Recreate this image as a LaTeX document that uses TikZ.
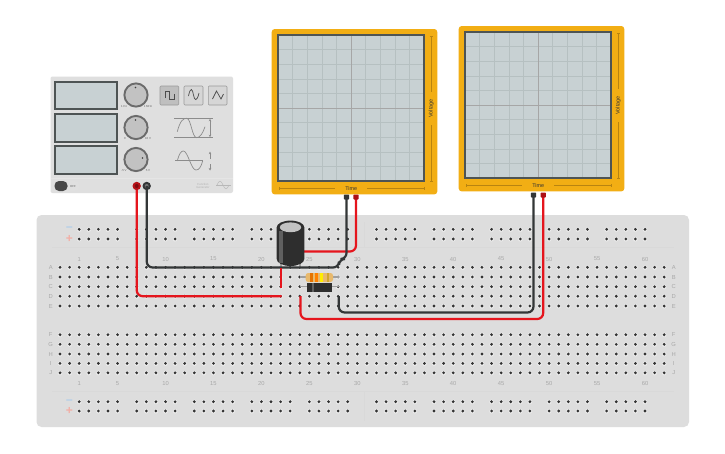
\documentclass[tikz,border=0pt]{standalone}
\usepackage{fontspec}
\setmainfont{Liberation Sans}
\usetikzlibrary{calc, arrows.meta}

\definecolor{boardgray}{HTML}{DDDDDD}
\definecolor{panelgray}{HTML}{DFDFDF}
\definecolor{holedark}{HTML}{333333}
\definecolor{labelgray}{HTML}{A8A8A8}
\definecolor{wirered}{HTML}{E5151D}
\definecolor{wireblack}{HTML}{333637}
\definecolor{scopeorange}{HTML}{F2AE14}
\definecolor{scopeline}{HTML}{B98410}
\definecolor{screenbg}{HTML}{C8D1D3}
\definecolor{screenedge}{HTML}{4E5454}
\definecolor{screengrid}{HTML}{B6C0C1}
\definecolor{symgray}{HTML}{8C8C8C}
\definecolor{railblue}{HTML}{B4CFE8}
\definecolor{railred}{HTML}{F2AFA6}
\definecolor{bodytan}{HTML}{E8B96C}

\tikzset{
    holeglow/.style={fill=white!45!boardgray},
    holedot/.style={fill=holedark},
    collabel/.style={text=labelgray, font=\fontsize{5.8}{6}\selectfont, inner sep=0pt},
    redwire/.style={draw=wirered, line width=2.2pt, rounded corners=6pt},
    blackwire/.style={draw=wireblack, line width=2.2pt, rounded corners=6pt},
    leadwire/.style={draw=gray!75, line width=1.4pt},
    display/.style={fill=screenbg, draw=screenedge, line width=1.8pt},
    knob/.style={fill=black!24, draw=black!58, line width=1.9pt},
    wavebtn/.style={draw=black!40, line width=0.6pt, rounded corners=1pt},
    symline/.style={draw=symgray, line width=0.7pt},
    tinylabel/.style={text=black!60, font=\fontsize{2.9}{3}\selectfont, inner sep=0pt},
    scopetext/.style={text=black!80, font=\fontsize{5.4}{6}\selectfont, inner sep=0pt},
    railsign/.style={font=\bfseries\fontsize{12}{12}\selectfont, inner sep=0pt}
}

\begin{document}
\begin{tikzpicture}[x=1pt,y=-1pt]
    \useasboundingbox (0,0) rectangle (725,453);
    \fill[white] (0,0) rectangle (725,453);

    %breadboard
    \fill[boardgray, rounded corners=5pt] (36.5,215) rectangle (689,427);
    \draw[black!15, line width=0.5pt] (52,247.3) -- (674,247.3);
    \draw[black!15, line width=0.5pt] (52,391) -- (674,391);
    \draw[black!15, line width=0.5pt] (364,222) -- (364,247.3);
    \draw[black!15, line width=0.5pt] (364,391) -- (364,421);

    %holes
    \foreach \rowy in {267.3,277,286.7,296.2,306,334.7,344.3,354,363.4,372.8} {
        \foreach \c in {-1,...,62} {
            \fill[holeglow] ({79.2+9.59*(\c-1)},\rowy+0.3) circle (2.3);
            \fill[holedot] ({79.2+9.59*(\c-1)},\rowy) circle (1.55);
        }
    }
    \foreach \rowy in {229.3,239,401.7,411} {
        \foreach \g in {1,7,13,19,25,32,38,44,50,56} {
            \foreach \k in {0,...,4} {
                \fill[holeglow] ({79.2+9.59*(\g+\k-1)},\rowy+0.3) circle (2.3);
                \fill[holedot] ({79.2+9.59*(\g+\k-1)},\rowy) circle (1.55);
            }
        }
    }

    %rail signs
    \foreach \n/\rowy in {topminus/229.3,botminus/401.7} {
        \node[railsign, text=railblue] (\n) at (69.3,\rowy) {−};
    }
    \foreach \n/\rowy in {topplus/239,botplus/411} {
        \node[railsign, text=railred] (\n) at (69.3,\rowy) {+};
    }

    %numbers
    \foreach \c in {1,5,10,15,...,60} {
        \node[collabel] (numtop\c) at ({79.2+9.59*(\c-1)},259) {\c};
        \node[collabel] (numbot\c) at ({79.2+9.59*(\c-1)},383.7) {\c};
    }
    \foreach \l/\rowy in {A/267.3,B/277,C/286.7,D/296.2,E/306,F/334.7,G/344.3,H/354,I/363.4,J/372.8} {
        \node[collabel] (left\l) at (50.7,\rowy) {\l};
        \node[collabel] (right\l) at (673.7,\rowy) {\l};
    }

    %function generator
    \fill[panelgray, rounded corners=2pt] (50.5,76.5) rectangle (233,193);
    \draw[white!90!black, line width=0.5pt] (50.5,178) -- (233,178);
    \draw[display] (55,82) rectangle (117.3,109.3);
    \draw[display] (55,114.3) rectangle (117.3,141.7);
    \draw[display] (55,146.3) rectangle (117.3,174.3);

    \draw[knob] (136,95) circle (11.6);
    \fill[black!75] (135.5,87.5) circle (0.9);
    \draw[knob] (136,127.5) circle (11.6);
    \fill[black!75] (135.5,120) circle (0.9);
    \draw[knob] (136,159.5) circle (11.6);
    \fill[black!75] (142.5,158) circle (0.9);

    \node[tinylabel] (freqlow) at (124,106) {1 Hz};
    \node[tinylabel] (freqhigh) at (148,106) {1 MHz};
    \node[tinylabel] (amplow) at (125,138.5) {0};
    \node[tinylabel] (amphigh) at (148,138.5) {10 V};
    \node[tinylabel] (offlow) at (124,171) {-5 V};
    \node[tinylabel] (offhigh) at (148,171) {5 V};

    %wave buttons
    \draw[wavebtn, fill=black!25] (160,86) rectangle (178.7,105);
    \draw[wavebtn, fill=black!16] (184,86) rectangle (203,105);
    \draw[wavebtn, fill=black!16] (208.3,86) rectangle (227,105);
    \draw[black!70, line width=0.7pt] (165,98) -- (165,91) -- (169.5,91) -- (169.5,99) -- (174,99) -- (174,94);
    \draw[black!70, line width=0.7pt] (188.5,96) .. controls (190.5,86) and (192.5,89) .. (193.5,95) .. controls (194.5,101) and (197,102) .. (199,93);
    \draw[black!70, line width=0.7pt] (212.5,99) -- (216.5,91) -- (221,99) -- (223.5,94);

    %amplitude sketch
    \draw[symline] (174,118.3) -- (213,118.3);
    \draw[symline] (174,137.7) -- (213,137.7);
    \draw[symline] (177.3,131.7) .. controls (180,121) and (183,118.3) .. (186.7,118.3) .. controls (191,118.3) and (192,137.7) .. (196.7,137.7) .. controls (200,137.7) and (203,133) .. (205,126.7);
    \draw[symline, -{Stealth[length=2.5pt,width=2.5pt]}] (210,128) -- (210,118.8);
    \draw[symline, -{Stealth[length=2.5pt,width=2.5pt]}] (210,128) -- (210,137.2);

    %offset sketch
    \draw[symline] (175,160) -- (203,160);
    \draw[symline] (177.3,161) .. controls (179,154) and (181,151) .. (183.3,151) .. controls (188,151) and (191,170) .. (196,170) .. controls (199,170) and (201,167) .. (202.7,161);
    \draw[symline, -{Stealth[length=2.5pt,width=2.5pt]}] (210,159) -- (210,151.7);
    \draw[symline, -{Stealth[length=2.5pt,width=2.5pt]}] (210,164.3) -- (210,170.5);

    %switch
    \fill[black!12, rounded corners=4.5pt] (54.5,181) rectangle (79.5,191);
    \fill[black!72, rounded corners=4.5pt] (54.5,181) rectangle (67.5,191);
    \node[tinylabel] (switchtext) at (73,186) {OFF};

    %maker label
    \node[tinylabel, text=black!30, align=center] (genname) at (203,185.7) {Function\\Generator};
    \draw[black!28, line width=0.5pt] (216,185) -- (231,185);
    \draw[black!28, line width=0.5pt] (217,185) .. controls (219,180) and (221,180) .. (223,185) .. controls (225,190) and (227,190) .. (229,185);

    %oscilloscopes
    \foreach \sx/\sy in {271.7/29,458.7/26} {
        \begin{scope}[shift={(\sx,\sy)}]
            \fill[scopeorange, rounded corners=3pt] (0,0) rectangle (165.6,165.4);
            \fill[screenbg] (6.3,6) rectangle (152.6,152.3);
            \foreach \i in {1,...,9} {
                \draw[screengrid, line width=0.6pt] ({6.3+14.63*\i},6) -- ({6.3+14.63*\i},152.3);
                \draw[screengrid, line width=0.6pt] (6.3,{6+14.63*\i}) -- (152.6,{6+14.63*\i});
            }
            \draw[black!35, line width=0.6pt] (79.45,6) -- (79.45,152.3);
            \draw[black!35, line width=0.6pt] (6.3,79.15) -- (152.6,79.15);
            \draw[screenedge, line width=1.8pt] (6.3,6) rectangle (152.6,152.3);

            \draw[scopeline, line width=0.5pt, {Bar[width=3pt]}-] (7.3,159.3) -- (63.3,159.3);
            \draw[scopeline, line width=0.5pt, -{Bar[width=3pt]}] (95.6,159.3) -- (152.3,159.3);
            \draw[scopeline, line width=0.5pt, {Bar[width=3pt]}-] (159.6,7) -- (159.6,62.7);
            \draw[scopeline, line width=0.5pt, -{Bar[width=3pt]}] (159.6,96) -- (159.6,152);
            \node[scopetext] at (79.5,159.3) {Time};
            \node[scopetext, rotate=90] at (159.6,79.3) {Voltage};
        \end{scope}
    }

    %where the wires begin
    \coordinate (genred) at (136.7,186);
    \coordinate (genblack) at (146.7,186);
    \coordinate (scopeAblack) at (346.5,197);
    \coordinate (scopeAred) at (356,197);
    \coordinate (scopeBblack) at (533.5,195);
    \coordinate (scopeBred) at (543.2,195);

    %wires
    \draw[redwire] (genred) -- (136.7,296.2) -- (281.7,296.2);
    \draw[redwire] (300,251.5) -- (356,251.5) -- (scopeAred);
    \draw[redwire] (300.5,296.2) -- (300.5,319) -- (543.2,319) -- (scopeBred);
    \draw[blackwire] (338.7,296.2) -- (338.7,312.5) -- (533.5,312.5) -- (scopeBblack);

    %scope plugs
    \foreach \n/\px/\py/\pc in {plugAb/346.5/197/wireblack,plugAr/356/197/wirered!75!black,plugBb/533.5/195/wireblack,plugBr/543.2/195/wirered!75!black} {
        \fill[\pc, rounded corners=0.8pt] (\px-2.7,\py-2.5) rectangle (\px+2.7,\py+2.5);
    }

    %generator plugs
    \fill[wirered!80!black] (genred) circle (4.2);
    \fill[wirered!55!black] (genred) circle (2);
    \fill[wireblack] (genblack) circle (4.2);
    \fill[black!55] (genblack) circle (2);

    %capacitor
    \draw[leadwire] (281,258) -- (281,268);
    \draw[leadwire] (300,258) -- (300,268);
    \fill[black!82] (276.7,227.3) -- (276.7,259) arc[start angle=180, end angle=0, x radius=13.8, y radius=7] -- (304.3,227.3) arc[start angle=0, end angle=-180, x radius=13.8, y radius=6.7] -- cycle;
    \fill[black!25!gray] (278.5,231) rectangle (282.5,263);
    \fill[black!24] (290.5,227.3) ellipse (10.7 and 4.9);

    %wire past the capacitor
    \draw[blackwire] (genblack) -- (146.7,267.5) -- (339,267.5) -- (339,259) -- (346.5,259) -- (scopeAblack);
    \draw[redwire, rounded corners=0pt] (281,268) -- (281,288);

    %resistor
    \draw[leadwire] (300,277) -- (339,277);
    \fill[bodytan, rounded corners=2.5pt] (305.7,273) rectangle (333,282);
    \fill[orange!90!black] (309.5,273) rectangle (312.5,282);
    \fill[orange] (314.5,273) rectangle (318,282);
    \fill[yellow!95!orange] (319.5,273) rectangle (322.5,282);
    \fill[brown!70!yellow] (326.5,273) rectangle (329,282);

    %diode
    \draw[leadwire] (300,286.7) -- (339,286.7);
    \fill[black!82] (307.3,283) rectangle (331.7,291.7);
    \fill[black!25!gray] (312,283) rectangle (314.3,291.7);
\end{tikzpicture}
\end{document}
